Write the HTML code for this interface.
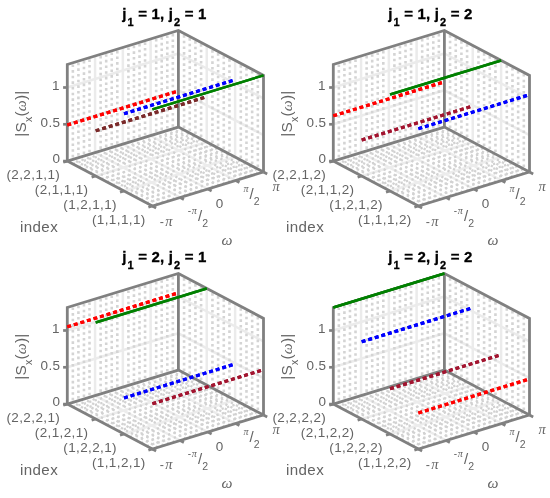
<!DOCTYPE html>
<html><head><meta charset="utf-8"><style>
html,body{margin:0;padding:0;background:#fff;}
svg{display:block;}
text{font-family:"Liberation Sans",Arial,sans-serif;}
.ti{font-size:15px;font-weight:bold;fill:#000;letter-spacing:0.2px;stroke:#000;stroke-width:0.3px;}
.sub{font-size:11px;}
.tk{font-size:12.5px;fill:#646464;letter-spacing:0.8px;}
.lb{font-size:14px;fill:#646464;letter-spacing:0.9px;}
.tks{letter-spacing:0.36px;}
.lbs{letter-spacing:0.4px;}
.sub2{font-size:10.5px;}
.yl{font-size:15.5px;letter-spacing:0.2px;}
.sm{font-size:10px;}
.sb{font-size:10.5px;}
.sl{font-size:15px;letter-spacing:0;}
.pi{font-family:"Liberation Serif",serif;font-style:italic;}
.pib{font-size:14.5px;}
.om{font-family:"Liberation Serif",serif;font-style:italic;font-size:15.5px;}
.omy{font-family:"Liberation Serif",serif;font-style:italic;font-size:15.5px;}
</style></head><body>
<svg width="550" height="498" viewBox="0 0 550 498">
<rect width="550" height="498" fill="#fff"/>
<clipPath id="c0L"><polygon points="67.3,161.1 178.4,127.1 178.4,30.5 67.3,64.5"/></clipPath><clipPath id="c0R"><polygon points="178.4,127.1 263.5,172 263.5,75.4 178.4,30.5"/></clipPath><clipPath id="c0F"><polygon points="67.3,161.1 178.4,127.1 263.5,172 152.4,206"/></clipPath><line x1="95.08" y1="152.6" x2="95.08" y2="56" stroke="#ebebeb" stroke-width="2.5" /><line x1="180.18" y1="197.5" x2="95.08" y2="152.6" stroke="#ececec" stroke-width="2.5" /><line x1="122.85" y1="144.1" x2="122.85" y2="47.5" stroke="#ebebeb" stroke-width="2.5" /><line x1="207.95" y1="189" x2="122.85" y2="144.1" stroke="#ececec" stroke-width="2.5" /><line x1="150.62" y1="135.6" x2="150.62" y2="39" stroke="#ebebeb" stroke-width="2.5" /><line x1="235.72" y1="180.5" x2="150.62" y2="135.6" stroke="#ececec" stroke-width="2.5" /><line x1="235.13" y1="157.03" x2="235.13" y2="60.43" stroke="#ebebeb" stroke-width="2.5" /><line x1="124.03" y1="191.03" x2="235.13" y2="157.03" stroke="#ececec" stroke-width="2.5" /><line x1="206.77" y1="142.07" x2="206.77" y2="45.47" stroke="#ebebeb" stroke-width="2.5" /><line x1="95.67" y1="176.07" x2="206.77" y2="142.07" stroke="#ececec" stroke-width="2.5" /><line x1="67.3" y1="124.3" x2="178.4" y2="90.3" stroke="#ebebeb" stroke-width="2.5" /><line x1="178.4" y1="90.3" x2="263.5" y2="135.2" stroke="#ebebeb" stroke-width="2.5" /><line x1="67.3" y1="87.5" x2="178.4" y2="53.5" stroke="#ebebeb" stroke-width="2.5" /><line x1="178.4" y1="53.5" x2="263.5" y2="98.4" stroke="#ebebeb" stroke-width="2.5" /><g clip-path="url(#c0L)"><line x1="72.86" y1="157.4" x2="72.86" y2="62.8" stroke="#d4d4d4" stroke-width="2.6" stroke-dasharray="2.6 3.05"/><line x1="78.41" y1="155.7" x2="78.41" y2="61.1" stroke="#d4d4d4" stroke-width="2.6" stroke-dasharray="2.6 3.05"/><line x1="83.97" y1="154" x2="83.97" y2="59.4" stroke="#d4d4d4" stroke-width="2.6" stroke-dasharray="2.6 3.05"/><line x1="89.52" y1="152.3" x2="89.52" y2="57.7" stroke="#d4d4d4" stroke-width="2.6" stroke-dasharray="2.6 3.05"/><line x1="100.63" y1="148.9" x2="100.63" y2="54.3" stroke="#d4d4d4" stroke-width="2.6" stroke-dasharray="2.6 3.05"/><line x1="106.19" y1="147.2" x2="106.19" y2="52.6" stroke="#d4d4d4" stroke-width="2.6" stroke-dasharray="2.6 3.05"/><line x1="111.74" y1="145.5" x2="111.74" y2="50.9" stroke="#d4d4d4" stroke-width="2.6" stroke-dasharray="2.6 3.05"/><line x1="117.3" y1="143.8" x2="117.3" y2="49.2" stroke="#d4d4d4" stroke-width="2.6" stroke-dasharray="2.6 3.05"/><line x1="128.41" y1="140.4" x2="128.41" y2="45.8" stroke="#d4d4d4" stroke-width="2.6" stroke-dasharray="2.6 3.05"/><line x1="133.96" y1="138.7" x2="133.96" y2="44.1" stroke="#d4d4d4" stroke-width="2.6" stroke-dasharray="2.6 3.05"/><line x1="139.52" y1="137" x2="139.52" y2="42.4" stroke="#d4d4d4" stroke-width="2.6" stroke-dasharray="2.6 3.05"/><line x1="145.07" y1="135.3" x2="145.07" y2="40.7" stroke="#d4d4d4" stroke-width="2.6" stroke-dasharray="2.6 3.05"/><line x1="156.18" y1="131.9" x2="156.18" y2="37.3" stroke="#d4d4d4" stroke-width="2.6" stroke-dasharray="2.6 3.05"/><line x1="161.73" y1="130.2" x2="161.73" y2="35.6" stroke="#d4d4d4" stroke-width="2.6" stroke-dasharray="2.6 3.05"/><line x1="167.29" y1="128.5" x2="167.29" y2="33.9" stroke="#d4d4d4" stroke-width="2.6" stroke-dasharray="2.6 3.05"/><line x1="172.84" y1="126.8" x2="172.84" y2="32.2" stroke="#d4d4d4" stroke-width="2.6" stroke-dasharray="2.6 3.05"/></g><g clip-path="url(#c0R)"><line x1="257.83" y1="167.01" x2="257.83" y2="72.41" stroke="#d4d4d4" stroke-width="2.6" stroke-dasharray="2.6 3.05"/><line x1="252.15" y1="164.01" x2="252.15" y2="69.41" stroke="#d4d4d4" stroke-width="2.6" stroke-dasharray="2.6 3.05"/><line x1="246.48" y1="161.02" x2="246.48" y2="66.42" stroke="#d4d4d4" stroke-width="2.6" stroke-dasharray="2.6 3.05"/><line x1="240.81" y1="158.03" x2="240.81" y2="63.43" stroke="#d4d4d4" stroke-width="2.6" stroke-dasharray="2.6 3.05"/><line x1="229.46" y1="152.04" x2="229.46" y2="57.44" stroke="#d4d4d4" stroke-width="2.6" stroke-dasharray="2.6 3.05"/><line x1="223.79" y1="149.05" x2="223.79" y2="54.45" stroke="#d4d4d4" stroke-width="2.6" stroke-dasharray="2.6 3.05"/><line x1="218.11" y1="146.05" x2="218.11" y2="51.45" stroke="#d4d4d4" stroke-width="2.6" stroke-dasharray="2.6 3.05"/><line x1="212.44" y1="143.06" x2="212.44" y2="48.46" stroke="#d4d4d4" stroke-width="2.6" stroke-dasharray="2.6 3.05"/><line x1="201.09" y1="137.07" x2="201.09" y2="42.47" stroke="#d4d4d4" stroke-width="2.6" stroke-dasharray="2.6 3.05"/><line x1="195.42" y1="134.08" x2="195.42" y2="39.48" stroke="#d4d4d4" stroke-width="2.6" stroke-dasharray="2.6 3.05"/><line x1="189.75" y1="131.09" x2="189.75" y2="36.49" stroke="#d4d4d4" stroke-width="2.6" stroke-dasharray="2.6 3.05"/><line x1="184.07" y1="128.09" x2="184.07" y2="33.49" stroke="#d4d4d4" stroke-width="2.6" stroke-dasharray="2.6 3.05"/></g><g clip-path="url(#c0F)"><line x1="157.96" y1="204.3" x2="72.86" y2="159.4" stroke="#d2d2d2" stroke-width="2.3" stroke-dasharray="2.3 3.35"/><line x1="163.51" y1="202.6" x2="78.41" y2="157.7" stroke="#d2d2d2" stroke-width="2.3" stroke-dasharray="2.3 3.35"/><line x1="169.06" y1="200.9" x2="83.97" y2="156" stroke="#d2d2d2" stroke-width="2.3" stroke-dasharray="2.3 3.35"/><line x1="174.62" y1="199.2" x2="89.52" y2="154.3" stroke="#d2d2d2" stroke-width="2.3" stroke-dasharray="2.3 3.35"/><line x1="185.73" y1="195.8" x2="100.63" y2="150.9" stroke="#d2d2d2" stroke-width="2.3" stroke-dasharray="2.3 3.35"/><line x1="191.28" y1="194.1" x2="106.19" y2="149.2" stroke="#d2d2d2" stroke-width="2.3" stroke-dasharray="2.3 3.35"/><line x1="196.84" y1="192.4" x2="111.74" y2="147.5" stroke="#d2d2d2" stroke-width="2.3" stroke-dasharray="2.3 3.35"/><line x1="202.4" y1="190.7" x2="117.3" y2="145.8" stroke="#d2d2d2" stroke-width="2.3" stroke-dasharray="2.3 3.35"/><line x1="213.5" y1="187.3" x2="128.41" y2="142.4" stroke="#d2d2d2" stroke-width="2.3" stroke-dasharray="2.3 3.35"/><line x1="219.06" y1="185.6" x2="133.96" y2="140.7" stroke="#d2d2d2" stroke-width="2.3" stroke-dasharray="2.3 3.35"/><line x1="224.62" y1="183.9" x2="139.52" y2="139" stroke="#d2d2d2" stroke-width="2.3" stroke-dasharray="2.3 3.35"/><line x1="230.17" y1="182.2" x2="145.07" y2="137.3" stroke="#d2d2d2" stroke-width="2.3" stroke-dasharray="2.3 3.35"/><line x1="241.28" y1="178.8" x2="156.18" y2="133.9" stroke="#d2d2d2" stroke-width="2.3" stroke-dasharray="2.3 3.35"/><line x1="246.83" y1="177.1" x2="161.73" y2="132.2" stroke="#d2d2d2" stroke-width="2.3" stroke-dasharray="2.3 3.35"/><line x1="252.39" y1="175.4" x2="167.29" y2="130.5" stroke="#d2d2d2" stroke-width="2.3" stroke-dasharray="2.3 3.35"/><line x1="257.94" y1="173.7" x2="172.84" y2="128.8" stroke="#d2d2d2" stroke-width="2.3" stroke-dasharray="2.3 3.35"/><line x1="146.73" y1="203.01" x2="257.83" y2="169.01" stroke="#d2d2d2" stroke-width="2.3" stroke-dasharray="2.3 3.35"/><line x1="141.05" y1="200.01" x2="252.15" y2="166.01" stroke="#d2d2d2" stroke-width="2.3" stroke-dasharray="2.3 3.35"/><line x1="135.38" y1="197.02" x2="246.48" y2="163.02" stroke="#d2d2d2" stroke-width="2.3" stroke-dasharray="2.3 3.35"/><line x1="129.71" y1="194.03" x2="240.81" y2="160.03" stroke="#d2d2d2" stroke-width="2.3" stroke-dasharray="2.3 3.35"/><line x1="118.36" y1="188.04" x2="229.46" y2="154.04" stroke="#d2d2d2" stroke-width="2.3" stroke-dasharray="2.3 3.35"/><line x1="112.69" y1="185.05" x2="223.79" y2="151.05" stroke="#d2d2d2" stroke-width="2.3" stroke-dasharray="2.3 3.35"/><line x1="107.01" y1="182.05" x2="218.11" y2="148.05" stroke="#d2d2d2" stroke-width="2.3" stroke-dasharray="2.3 3.35"/><line x1="101.34" y1="179.06" x2="212.44" y2="145.06" stroke="#d2d2d2" stroke-width="2.3" stroke-dasharray="2.3 3.35"/><line x1="89.99" y1="173.07" x2="201.09" y2="139.07" stroke="#d2d2d2" stroke-width="2.3" stroke-dasharray="2.3 3.35"/><line x1="84.32" y1="170.08" x2="195.42" y2="136.08" stroke="#d2d2d2" stroke-width="2.3" stroke-dasharray="2.3 3.35"/><line x1="78.65" y1="167.09" x2="189.75" y2="133.09" stroke="#d2d2d2" stroke-width="2.3" stroke-dasharray="2.3 3.35"/><line x1="72.97" y1="164.09" x2="184.07" y2="130.09" stroke="#d2d2d2" stroke-width="2.3" stroke-dasharray="2.3 3.35"/></g><polyline points="67.3,161.1 67.3,64.5 178.4,30.5 263.5,75.4 263.5,172" fill="none" stroke="#808080" stroke-width="2.8" stroke-linejoin="miter"/><polyline points="178.4,30.5 178.4,127.1" fill="none" stroke="#808080" stroke-width="2.8" stroke-linejoin="miter"/><polyline points="67.3,161.1 178.4,127.1 263.5,172" fill="none" stroke="#808080" stroke-width="2.8" stroke-linejoin="miter"/><polyline points="67.3,161.1 152.4,206 263.5,172" fill="none" stroke="#808080" stroke-width="2.8" stroke-linejoin="miter"/><line x1="152.4" y1="206" x2="156.11" y2="207.96" stroke="#808080" stroke-width="2.7" /><line x1="180.18" y1="197.5" x2="183.89" y2="199.46" stroke="#808080" stroke-width="2.7" /><line x1="207.95" y1="189" x2="211.66" y2="190.96" stroke="#808080" stroke-width="2.7" /><line x1="235.72" y1="180.5" x2="239.44" y2="182.46" stroke="#808080" stroke-width="2.7" /><line x1="263.5" y1="172" x2="267.21" y2="173.96" stroke="#808080" stroke-width="2.7" /><line x1="152.4" y1="206" x2="148.38" y2="207.23" stroke="#808080" stroke-width="2.7" /><line x1="124.03" y1="191.03" x2="120.02" y2="192.26" stroke="#808080" stroke-width="2.7" /><line x1="95.67" y1="176.07" x2="91.65" y2="177.3" stroke="#808080" stroke-width="2.7" /><line x1="67.3" y1="161.1" x2="63.28" y2="162.33" stroke="#808080" stroke-width="2.7" /><line x1="67.3" y1="161.1" x2="63.1" y2="161.1" stroke="#808080" stroke-width="2.7" /><line x1="67.3" y1="124.3" x2="63.1" y2="124.3" stroke="#808080" stroke-width="2.7" /><line x1="67.3" y1="87.5" x2="63.1" y2="87.5" stroke="#808080" stroke-width="2.7" /><line x1="67.3" y1="125.04" x2="178.4" y2="91.04" stroke="#ff0000" stroke-width="3.2" stroke-dasharray="3.9 2.95"/><line x1="95.67" y1="130.8" x2="206.77" y2="96.8" stroke="#7a2a2a" stroke-width="3.2" stroke-dasharray="3.9 2.95"/><line x1="124.03" y1="113.75" x2="235.13" y2="79.75" stroke="#0000ff" stroke-width="3.2" stroke-dasharray="3.9 2.95"/><line x1="152.4" y1="109.4" x2="263.5" y2="75.4" stroke="#008000" stroke-width="2.5" /><line x1="67.3" y1="125.04" x2="178.4" y2="91.04" stroke="#ff0000" stroke-width="3.2" stroke-dasharray="3.9 2.95"/><line x1="95.67" y1="130.8" x2="206.77" y2="96.8" stroke="#7a2a2a" stroke-width="3.2" stroke-dasharray="3.9 2.95"/><line x1="124.03" y1="113.75" x2="235.13" y2="79.75" stroke="#0000ff" stroke-width="3.2" stroke-dasharray="3.9 2.95"/><line x1="152.4" y1="109.4" x2="263.5" y2="75.4" stroke="#008000" stroke-width="2.5" /><text x="122.3" y="19" class="ti">j<tspan class="sub" dx="0.8" dy="7.2">1</tspan><tspan dy="-7.2"> = 1, j</tspan><tspan class="sub" dx="0.8" dy="7.2">2</tspan><tspan dy="-7.2"> = 1</tspan></text><text transform="translate(60.4,163) scale(1.08,1)" class="tk tks" text-anchor="end">0</text><text transform="translate(60.5,127.4) scale(1.08,1)" class="tk tks" text-anchor="end">0.5</text><text transform="translate(59.9,90.4) scale(1.08,1)" class="tk tks" text-anchor="end">1</text><text transform="translate(145.7,223.8) scale(1.08,1)" class="tk tks" text-anchor="end">(1,1,1,1)</text><text transform="translate(117,208.6) scale(1.08,1)" class="tk tks" text-anchor="end">(1,2,1,1)</text><text transform="translate(88.5,193.7) scale(1.08,1)" class="tk tks" text-anchor="end">(2,1,1,1)</text><text transform="translate(60.2,178.7) scale(1.08,1)" class="tk tks" text-anchor="end">(2,2,1,1)</text><text x="159.8" y="225.8" class="tk">-<tspan class="pi pib" dx="0.5">&#960;</tspan></text><text x="187.7" y="220.5" class="tk"><tspan class="sm" dy="-6.5">-</tspan><tspan class="sm pi">&#960;</tspan><tspan class="sl" dy="6.5" dx="0.3">/</tspan><tspan class="sb" dy="6.2">2</tspan></text><text transform="translate(215.7,207.9) scale(1.08,1)" class="tk tks">0</text><text x="243.4" y="198.5" class="tk"><tspan class="sm pi" dy="-6.5">&#960;</tspan><tspan class="sl" dy="6.5" dx="0.3">/</tspan><tspan class="sb" dy="6.2">2</tspan></text><text x="272.5" y="190.5" class="tk pi pib">&#960;</text><text x="221.5" y="244.7" class="lb om">&#969;</text><text transform="translate(19.9,231.8) scale(1.08,1)" class="lb lbs">index</text><text class="lb yl" text-anchor="middle" transform="translate(25.6,113.6) rotate(-90)">|S<tspan class="sub2" dy="6.5">x</tspan><tspan dy="-6.5">(</tspan><tspan class="omy">&#969;</tspan><tspan>)|</tspan></text><clipPath id="c1L"><polygon points="333.3,161.1 444.4,127.1 444.4,30.5 333.3,64.5"/></clipPath><clipPath id="c1R"><polygon points="444.4,127.1 529.5,172 529.5,75.4 444.4,30.5"/></clipPath><clipPath id="c1F"><polygon points="333.3,161.1 444.4,127.1 529.5,172 418.4,206"/></clipPath><line x1="361.08" y1="152.6" x2="361.08" y2="56" stroke="#ebebeb" stroke-width="2.5" /><line x1="446.18" y1="197.5" x2="361.08" y2="152.6" stroke="#ececec" stroke-width="2.5" /><line x1="388.85" y1="144.1" x2="388.85" y2="47.5" stroke="#ebebeb" stroke-width="2.5" /><line x1="473.95" y1="189" x2="388.85" y2="144.1" stroke="#ececec" stroke-width="2.5" /><line x1="416.62" y1="135.6" x2="416.62" y2="39" stroke="#ebebeb" stroke-width="2.5" /><line x1="501.73" y1="180.5" x2="416.62" y2="135.6" stroke="#ececec" stroke-width="2.5" /><line x1="501.13" y1="157.03" x2="501.13" y2="60.43" stroke="#ebebeb" stroke-width="2.5" /><line x1="390.03" y1="191.03" x2="501.13" y2="157.03" stroke="#ececec" stroke-width="2.5" /><line x1="472.77" y1="142.07" x2="472.77" y2="45.47" stroke="#ebebeb" stroke-width="2.5" /><line x1="361.67" y1="176.07" x2="472.77" y2="142.07" stroke="#ececec" stroke-width="2.5" /><line x1="333.3" y1="124.3" x2="444.4" y2="90.3" stroke="#ebebeb" stroke-width="2.5" /><line x1="444.4" y1="90.3" x2="529.5" y2="135.2" stroke="#ebebeb" stroke-width="2.5" /><line x1="333.3" y1="87.5" x2="444.4" y2="53.5" stroke="#ebebeb" stroke-width="2.5" /><line x1="444.4" y1="53.5" x2="529.5" y2="98.4" stroke="#ebebeb" stroke-width="2.5" /><g clip-path="url(#c1L)"><line x1="338.86" y1="157.4" x2="338.86" y2="62.8" stroke="#d4d4d4" stroke-width="2.6" stroke-dasharray="2.6 3.05"/><line x1="344.41" y1="155.7" x2="344.41" y2="61.1" stroke="#d4d4d4" stroke-width="2.6" stroke-dasharray="2.6 3.05"/><line x1="349.97" y1="154" x2="349.97" y2="59.4" stroke="#d4d4d4" stroke-width="2.6" stroke-dasharray="2.6 3.05"/><line x1="355.52" y1="152.3" x2="355.52" y2="57.7" stroke="#d4d4d4" stroke-width="2.6" stroke-dasharray="2.6 3.05"/><line x1="366.63" y1="148.9" x2="366.63" y2="54.3" stroke="#d4d4d4" stroke-width="2.6" stroke-dasharray="2.6 3.05"/><line x1="372.19" y1="147.2" x2="372.19" y2="52.6" stroke="#d4d4d4" stroke-width="2.6" stroke-dasharray="2.6 3.05"/><line x1="377.74" y1="145.5" x2="377.74" y2="50.9" stroke="#d4d4d4" stroke-width="2.6" stroke-dasharray="2.6 3.05"/><line x1="383.3" y1="143.8" x2="383.3" y2="49.2" stroke="#d4d4d4" stroke-width="2.6" stroke-dasharray="2.6 3.05"/><line x1="394.4" y1="140.4" x2="394.4" y2="45.8" stroke="#d4d4d4" stroke-width="2.6" stroke-dasharray="2.6 3.05"/><line x1="399.96" y1="138.7" x2="399.96" y2="44.1" stroke="#d4d4d4" stroke-width="2.6" stroke-dasharray="2.6 3.05"/><line x1="405.51" y1="137" x2="405.51" y2="42.4" stroke="#d4d4d4" stroke-width="2.6" stroke-dasharray="2.6 3.05"/><line x1="411.07" y1="135.3" x2="411.07" y2="40.7" stroke="#d4d4d4" stroke-width="2.6" stroke-dasharray="2.6 3.05"/><line x1="422.18" y1="131.9" x2="422.18" y2="37.3" stroke="#d4d4d4" stroke-width="2.6" stroke-dasharray="2.6 3.05"/><line x1="427.74" y1="130.2" x2="427.74" y2="35.6" stroke="#d4d4d4" stroke-width="2.6" stroke-dasharray="2.6 3.05"/><line x1="433.29" y1="128.5" x2="433.29" y2="33.9" stroke="#d4d4d4" stroke-width="2.6" stroke-dasharray="2.6 3.05"/><line x1="438.85" y1="126.8" x2="438.85" y2="32.2" stroke="#d4d4d4" stroke-width="2.6" stroke-dasharray="2.6 3.05"/></g><g clip-path="url(#c1R)"><line x1="523.83" y1="167.01" x2="523.83" y2="72.41" stroke="#d4d4d4" stroke-width="2.6" stroke-dasharray="2.6 3.05"/><line x1="518.15" y1="164.01" x2="518.15" y2="69.41" stroke="#d4d4d4" stroke-width="2.6" stroke-dasharray="2.6 3.05"/><line x1="512.48" y1="161.02" x2="512.48" y2="66.42" stroke="#d4d4d4" stroke-width="2.6" stroke-dasharray="2.6 3.05"/><line x1="506.81" y1="158.03" x2="506.81" y2="63.43" stroke="#d4d4d4" stroke-width="2.6" stroke-dasharray="2.6 3.05"/><line x1="495.46" y1="152.04" x2="495.46" y2="57.44" stroke="#d4d4d4" stroke-width="2.6" stroke-dasharray="2.6 3.05"/><line x1="489.79" y1="149.05" x2="489.79" y2="54.45" stroke="#d4d4d4" stroke-width="2.6" stroke-dasharray="2.6 3.05"/><line x1="484.11" y1="146.05" x2="484.11" y2="51.45" stroke="#d4d4d4" stroke-width="2.6" stroke-dasharray="2.6 3.05"/><line x1="478.44" y1="143.06" x2="478.44" y2="48.46" stroke="#d4d4d4" stroke-width="2.6" stroke-dasharray="2.6 3.05"/><line x1="467.09" y1="137.07" x2="467.09" y2="42.47" stroke="#d4d4d4" stroke-width="2.6" stroke-dasharray="2.6 3.05"/><line x1="461.42" y1="134.08" x2="461.42" y2="39.48" stroke="#d4d4d4" stroke-width="2.6" stroke-dasharray="2.6 3.05"/><line x1="455.75" y1="131.09" x2="455.75" y2="36.49" stroke="#d4d4d4" stroke-width="2.6" stroke-dasharray="2.6 3.05"/><line x1="450.07" y1="128.09" x2="450.07" y2="33.49" stroke="#d4d4d4" stroke-width="2.6" stroke-dasharray="2.6 3.05"/></g><g clip-path="url(#c1F)"><line x1="423.96" y1="204.3" x2="338.86" y2="159.4" stroke="#d2d2d2" stroke-width="2.3" stroke-dasharray="2.3 3.35"/><line x1="429.51" y1="202.6" x2="344.41" y2="157.7" stroke="#d2d2d2" stroke-width="2.3" stroke-dasharray="2.3 3.35"/><line x1="435.06" y1="200.9" x2="349.97" y2="156" stroke="#d2d2d2" stroke-width="2.3" stroke-dasharray="2.3 3.35"/><line x1="440.62" y1="199.2" x2="355.52" y2="154.3" stroke="#d2d2d2" stroke-width="2.3" stroke-dasharray="2.3 3.35"/><line x1="451.73" y1="195.8" x2="366.63" y2="150.9" stroke="#d2d2d2" stroke-width="2.3" stroke-dasharray="2.3 3.35"/><line x1="457.28" y1="194.1" x2="372.19" y2="149.2" stroke="#d2d2d2" stroke-width="2.3" stroke-dasharray="2.3 3.35"/><line x1="462.84" y1="192.4" x2="377.74" y2="147.5" stroke="#d2d2d2" stroke-width="2.3" stroke-dasharray="2.3 3.35"/><line x1="468.39" y1="190.7" x2="383.3" y2="145.8" stroke="#d2d2d2" stroke-width="2.3" stroke-dasharray="2.3 3.35"/><line x1="479.5" y1="187.3" x2="394.4" y2="142.4" stroke="#d2d2d2" stroke-width="2.3" stroke-dasharray="2.3 3.35"/><line x1="485.06" y1="185.6" x2="399.96" y2="140.7" stroke="#d2d2d2" stroke-width="2.3" stroke-dasharray="2.3 3.35"/><line x1="490.62" y1="183.9" x2="405.51" y2="139" stroke="#d2d2d2" stroke-width="2.3" stroke-dasharray="2.3 3.35"/><line x1="496.17" y1="182.2" x2="411.07" y2="137.3" stroke="#d2d2d2" stroke-width="2.3" stroke-dasharray="2.3 3.35"/><line x1="507.28" y1="178.8" x2="422.18" y2="133.9" stroke="#d2d2d2" stroke-width="2.3" stroke-dasharray="2.3 3.35"/><line x1="512.84" y1="177.1" x2="427.74" y2="132.2" stroke="#d2d2d2" stroke-width="2.3" stroke-dasharray="2.3 3.35"/><line x1="518.39" y1="175.4" x2="433.29" y2="130.5" stroke="#d2d2d2" stroke-width="2.3" stroke-dasharray="2.3 3.35"/><line x1="523.94" y1="173.7" x2="438.85" y2="128.8" stroke="#d2d2d2" stroke-width="2.3" stroke-dasharray="2.3 3.35"/><line x1="412.73" y1="203.01" x2="523.83" y2="169.01" stroke="#d2d2d2" stroke-width="2.3" stroke-dasharray="2.3 3.35"/><line x1="407.05" y1="200.01" x2="518.15" y2="166.01" stroke="#d2d2d2" stroke-width="2.3" stroke-dasharray="2.3 3.35"/><line x1="401.38" y1="197.02" x2="512.48" y2="163.02" stroke="#d2d2d2" stroke-width="2.3" stroke-dasharray="2.3 3.35"/><line x1="395.71" y1="194.03" x2="506.81" y2="160.03" stroke="#d2d2d2" stroke-width="2.3" stroke-dasharray="2.3 3.35"/><line x1="384.36" y1="188.04" x2="495.46" y2="154.04" stroke="#d2d2d2" stroke-width="2.3" stroke-dasharray="2.3 3.35"/><line x1="378.69" y1="185.05" x2="489.79" y2="151.05" stroke="#d2d2d2" stroke-width="2.3" stroke-dasharray="2.3 3.35"/><line x1="373.01" y1="182.05" x2="484.11" y2="148.05" stroke="#d2d2d2" stroke-width="2.3" stroke-dasharray="2.3 3.35"/><line x1="367.34" y1="179.06" x2="478.44" y2="145.06" stroke="#d2d2d2" stroke-width="2.3" stroke-dasharray="2.3 3.35"/><line x1="355.99" y1="173.07" x2="467.09" y2="139.07" stroke="#d2d2d2" stroke-width="2.3" stroke-dasharray="2.3 3.35"/><line x1="350.32" y1="170.08" x2="461.42" y2="136.08" stroke="#d2d2d2" stroke-width="2.3" stroke-dasharray="2.3 3.35"/><line x1="344.65" y1="167.09" x2="455.75" y2="133.09" stroke="#d2d2d2" stroke-width="2.3" stroke-dasharray="2.3 3.35"/><line x1="338.97" y1="164.09" x2="450.07" y2="130.09" stroke="#d2d2d2" stroke-width="2.3" stroke-dasharray="2.3 3.35"/></g><polyline points="333.3,161.1 333.3,64.5 444.4,30.5 529.5,75.4 529.5,172" fill="none" stroke="#808080" stroke-width="2.8" stroke-linejoin="miter"/><polyline points="444.4,30.5 444.4,127.1" fill="none" stroke="#808080" stroke-width="2.8" stroke-linejoin="miter"/><polyline points="333.3,161.1 444.4,127.1 529.5,172" fill="none" stroke="#808080" stroke-width="2.8" stroke-linejoin="miter"/><polyline points="333.3,161.1 418.4,206 529.5,172" fill="none" stroke="#808080" stroke-width="2.8" stroke-linejoin="miter"/><line x1="418.4" y1="206" x2="422.11" y2="207.96" stroke="#808080" stroke-width="2.7" /><line x1="446.18" y1="197.5" x2="449.89" y2="199.46" stroke="#808080" stroke-width="2.7" /><line x1="473.95" y1="189" x2="477.66" y2="190.96" stroke="#808080" stroke-width="2.7" /><line x1="501.73" y1="180.5" x2="505.44" y2="182.46" stroke="#808080" stroke-width="2.7" /><line x1="529.5" y1="172" x2="533.21" y2="173.96" stroke="#808080" stroke-width="2.7" /><line x1="418.4" y1="206" x2="414.38" y2="207.23" stroke="#808080" stroke-width="2.7" /><line x1="390.03" y1="191.03" x2="386.02" y2="192.26" stroke="#808080" stroke-width="2.7" /><line x1="361.67" y1="176.07" x2="357.65" y2="177.3" stroke="#808080" stroke-width="2.7" /><line x1="333.3" y1="161.1" x2="329.28" y2="162.33" stroke="#808080" stroke-width="2.7" /><line x1="333.3" y1="161.1" x2="329.1" y2="161.1" stroke="#808080" stroke-width="2.7" /><line x1="333.3" y1="124.3" x2="329.1" y2="124.3" stroke="#808080" stroke-width="2.7" /><line x1="333.3" y1="87.5" x2="329.1" y2="87.5" stroke="#808080" stroke-width="2.7" /><line x1="333.3" y1="115.84" x2="444.4" y2="81.84" stroke="#ff0000" stroke-width="3.2" stroke-dasharray="3.9 2.95"/><line x1="361.67" y1="140" x2="472.77" y2="106" stroke="#a2142f" stroke-width="3.2" stroke-dasharray="3.9 2.95"/><line x1="390.03" y1="94.43" x2="501.13" y2="60.43" stroke="#008000" stroke-width="2.5" /><line x1="418.4" y1="128.72" x2="529.5" y2="94.72" stroke="#0000ff" stroke-width="3.2" stroke-dasharray="3.9 2.95"/><line x1="333.3" y1="115.84" x2="444.4" y2="81.84" stroke="#ff0000" stroke-width="3.2" stroke-dasharray="3.9 2.95"/><line x1="361.67" y1="140" x2="472.77" y2="106" stroke="#a2142f" stroke-width="3.2" stroke-dasharray="3.9 2.95"/><line x1="390.03" y1="94.43" x2="501.13" y2="60.43" stroke="#008000" stroke-width="2.5" /><line x1="418.4" y1="128.72" x2="529.5" y2="94.72" stroke="#0000ff" stroke-width="3.2" stroke-dasharray="3.9 2.95"/><text x="388.3" y="19" class="ti">j<tspan class="sub" dx="0.8" dy="7.2">1</tspan><tspan dy="-7.2"> = 1, j</tspan><tspan class="sub" dx="0.8" dy="7.2">2</tspan><tspan dy="-7.2"> = 2</tspan></text><text transform="translate(326.4,163) scale(1.08,1)" class="tk tks" text-anchor="end">0</text><text transform="translate(326.5,127.4) scale(1.08,1)" class="tk tks" text-anchor="end">0.5</text><text transform="translate(325.9,90.4) scale(1.08,1)" class="tk tks" text-anchor="end">1</text><text transform="translate(411.7,223.8) scale(1.08,1)" class="tk tks" text-anchor="end">(1,1,1,2)</text><text transform="translate(383,208.6) scale(1.08,1)" class="tk tks" text-anchor="end">(1,2,1,2)</text><text transform="translate(354.5,193.7) scale(1.08,1)" class="tk tks" text-anchor="end">(2,1,1,2)</text><text transform="translate(326.2,178.7) scale(1.08,1)" class="tk tks" text-anchor="end">(2,2,1,2)</text><text x="425.8" y="225.8" class="tk">-<tspan class="pi pib" dx="0.5">&#960;</tspan></text><text x="453.7" y="220.5" class="tk"><tspan class="sm" dy="-6.5">-</tspan><tspan class="sm pi">&#960;</tspan><tspan class="sl" dy="6.5" dx="0.3">/</tspan><tspan class="sb" dy="6.2">2</tspan></text><text transform="translate(481.7,207.9) scale(1.08,1)" class="tk tks">0</text><text x="509.4" y="198.5" class="tk"><tspan class="sm pi" dy="-6.5">&#960;</tspan><tspan class="sl" dy="6.5" dx="0.3">/</tspan><tspan class="sb" dy="6.2">2</tspan></text><text x="538.5" y="190.5" class="tk pi pib">&#960;</text><text x="487.5" y="244.7" class="lb om">&#969;</text><text transform="translate(285.9,231.8) scale(1.08,1)" class="lb lbs">index</text><text class="lb yl" text-anchor="middle" transform="translate(291.6,113.6) rotate(-90)">|S<tspan class="sub2" dy="6.5">x</tspan><tspan dy="-6.5">(</tspan><tspan class="omy">&#969;</tspan><tspan>)|</tspan></text><clipPath id="c2L"><polygon points="67.3,404.1 178.4,370.1 178.4,273.5 67.3,307.5"/></clipPath><clipPath id="c2R"><polygon points="178.4,370.1 263.5,415 263.5,318.4 178.4,273.5"/></clipPath><clipPath id="c2F"><polygon points="67.3,404.1 178.4,370.1 263.5,415 152.4,449"/></clipPath><line x1="95.08" y1="395.6" x2="95.08" y2="299" stroke="#ebebeb" stroke-width="2.5" /><line x1="180.18" y1="440.5" x2="95.08" y2="395.6" stroke="#ececec" stroke-width="2.5" /><line x1="122.85" y1="387.1" x2="122.85" y2="290.5" stroke="#ebebeb" stroke-width="2.5" /><line x1="207.95" y1="432" x2="122.85" y2="387.1" stroke="#ececec" stroke-width="2.5" /><line x1="150.62" y1="378.6" x2="150.62" y2="282" stroke="#ebebeb" stroke-width="2.5" /><line x1="235.72" y1="423.5" x2="150.62" y2="378.6" stroke="#ececec" stroke-width="2.5" /><line x1="235.13" y1="400.03" x2="235.13" y2="303.43" stroke="#ebebeb" stroke-width="2.5" /><line x1="124.03" y1="434.03" x2="235.13" y2="400.03" stroke="#ececec" stroke-width="2.5" /><line x1="206.77" y1="385.07" x2="206.77" y2="288.47" stroke="#ebebeb" stroke-width="2.5" /><line x1="95.67" y1="419.07" x2="206.77" y2="385.07" stroke="#ececec" stroke-width="2.5" /><line x1="67.3" y1="367.3" x2="178.4" y2="333.3" stroke="#ebebeb" stroke-width="2.5" /><line x1="178.4" y1="333.3" x2="263.5" y2="378.2" stroke="#ebebeb" stroke-width="2.5" /><line x1="67.3" y1="330.5" x2="178.4" y2="296.5" stroke="#ebebeb" stroke-width="2.5" /><line x1="178.4" y1="296.5" x2="263.5" y2="341.4" stroke="#ebebeb" stroke-width="2.5" /><g clip-path="url(#c2L)"><line x1="72.86" y1="400.4" x2="72.86" y2="305.8" stroke="#d4d4d4" stroke-width="2.6" stroke-dasharray="2.6 3.05"/><line x1="78.41" y1="398.7" x2="78.41" y2="304.1" stroke="#d4d4d4" stroke-width="2.6" stroke-dasharray="2.6 3.05"/><line x1="83.97" y1="397" x2="83.97" y2="302.4" stroke="#d4d4d4" stroke-width="2.6" stroke-dasharray="2.6 3.05"/><line x1="89.52" y1="395.3" x2="89.52" y2="300.7" stroke="#d4d4d4" stroke-width="2.6" stroke-dasharray="2.6 3.05"/><line x1="100.63" y1="391.9" x2="100.63" y2="297.3" stroke="#d4d4d4" stroke-width="2.6" stroke-dasharray="2.6 3.05"/><line x1="106.19" y1="390.2" x2="106.19" y2="295.6" stroke="#d4d4d4" stroke-width="2.6" stroke-dasharray="2.6 3.05"/><line x1="111.74" y1="388.5" x2="111.74" y2="293.9" stroke="#d4d4d4" stroke-width="2.6" stroke-dasharray="2.6 3.05"/><line x1="117.3" y1="386.8" x2="117.3" y2="292.2" stroke="#d4d4d4" stroke-width="2.6" stroke-dasharray="2.6 3.05"/><line x1="128.41" y1="383.4" x2="128.41" y2="288.8" stroke="#d4d4d4" stroke-width="2.6" stroke-dasharray="2.6 3.05"/><line x1="133.96" y1="381.7" x2="133.96" y2="287.1" stroke="#d4d4d4" stroke-width="2.6" stroke-dasharray="2.6 3.05"/><line x1="139.52" y1="380" x2="139.52" y2="285.4" stroke="#d4d4d4" stroke-width="2.6" stroke-dasharray="2.6 3.05"/><line x1="145.07" y1="378.3" x2="145.07" y2="283.7" stroke="#d4d4d4" stroke-width="2.6" stroke-dasharray="2.6 3.05"/><line x1="156.18" y1="374.9" x2="156.18" y2="280.3" stroke="#d4d4d4" stroke-width="2.6" stroke-dasharray="2.6 3.05"/><line x1="161.73" y1="373.2" x2="161.73" y2="278.6" stroke="#d4d4d4" stroke-width="2.6" stroke-dasharray="2.6 3.05"/><line x1="167.29" y1="371.5" x2="167.29" y2="276.9" stroke="#d4d4d4" stroke-width="2.6" stroke-dasharray="2.6 3.05"/><line x1="172.84" y1="369.8" x2="172.84" y2="275.2" stroke="#d4d4d4" stroke-width="2.6" stroke-dasharray="2.6 3.05"/></g><g clip-path="url(#c2R)"><line x1="257.83" y1="410.01" x2="257.83" y2="315.41" stroke="#d4d4d4" stroke-width="2.6" stroke-dasharray="2.6 3.05"/><line x1="252.15" y1="407.01" x2="252.15" y2="312.41" stroke="#d4d4d4" stroke-width="2.6" stroke-dasharray="2.6 3.05"/><line x1="246.48" y1="404.02" x2="246.48" y2="309.42" stroke="#d4d4d4" stroke-width="2.6" stroke-dasharray="2.6 3.05"/><line x1="240.81" y1="401.03" x2="240.81" y2="306.43" stroke="#d4d4d4" stroke-width="2.6" stroke-dasharray="2.6 3.05"/><line x1="229.46" y1="395.04" x2="229.46" y2="300.44" stroke="#d4d4d4" stroke-width="2.6" stroke-dasharray="2.6 3.05"/><line x1="223.79" y1="392.05" x2="223.79" y2="297.45" stroke="#d4d4d4" stroke-width="2.6" stroke-dasharray="2.6 3.05"/><line x1="218.11" y1="389.05" x2="218.11" y2="294.45" stroke="#d4d4d4" stroke-width="2.6" stroke-dasharray="2.6 3.05"/><line x1="212.44" y1="386.06" x2="212.44" y2="291.46" stroke="#d4d4d4" stroke-width="2.6" stroke-dasharray="2.6 3.05"/><line x1="201.09" y1="380.07" x2="201.09" y2="285.47" stroke="#d4d4d4" stroke-width="2.6" stroke-dasharray="2.6 3.05"/><line x1="195.42" y1="377.08" x2="195.42" y2="282.48" stroke="#d4d4d4" stroke-width="2.6" stroke-dasharray="2.6 3.05"/><line x1="189.75" y1="374.09" x2="189.75" y2="279.49" stroke="#d4d4d4" stroke-width="2.6" stroke-dasharray="2.6 3.05"/><line x1="184.07" y1="371.09" x2="184.07" y2="276.49" stroke="#d4d4d4" stroke-width="2.6" stroke-dasharray="2.6 3.05"/></g><g clip-path="url(#c2F)"><line x1="157.96" y1="447.3" x2="72.86" y2="402.4" stroke="#d2d2d2" stroke-width="2.3" stroke-dasharray="2.3 3.35"/><line x1="163.51" y1="445.6" x2="78.41" y2="400.7" stroke="#d2d2d2" stroke-width="2.3" stroke-dasharray="2.3 3.35"/><line x1="169.06" y1="443.9" x2="83.97" y2="399" stroke="#d2d2d2" stroke-width="2.3" stroke-dasharray="2.3 3.35"/><line x1="174.62" y1="442.2" x2="89.52" y2="397.3" stroke="#d2d2d2" stroke-width="2.3" stroke-dasharray="2.3 3.35"/><line x1="185.73" y1="438.8" x2="100.63" y2="393.9" stroke="#d2d2d2" stroke-width="2.3" stroke-dasharray="2.3 3.35"/><line x1="191.28" y1="437.1" x2="106.19" y2="392.2" stroke="#d2d2d2" stroke-width="2.3" stroke-dasharray="2.3 3.35"/><line x1="196.84" y1="435.4" x2="111.74" y2="390.5" stroke="#d2d2d2" stroke-width="2.3" stroke-dasharray="2.3 3.35"/><line x1="202.4" y1="433.7" x2="117.3" y2="388.8" stroke="#d2d2d2" stroke-width="2.3" stroke-dasharray="2.3 3.35"/><line x1="213.5" y1="430.3" x2="128.41" y2="385.4" stroke="#d2d2d2" stroke-width="2.3" stroke-dasharray="2.3 3.35"/><line x1="219.06" y1="428.6" x2="133.96" y2="383.7" stroke="#d2d2d2" stroke-width="2.3" stroke-dasharray="2.3 3.35"/><line x1="224.62" y1="426.9" x2="139.52" y2="382" stroke="#d2d2d2" stroke-width="2.3" stroke-dasharray="2.3 3.35"/><line x1="230.17" y1="425.2" x2="145.07" y2="380.3" stroke="#d2d2d2" stroke-width="2.3" stroke-dasharray="2.3 3.35"/><line x1="241.28" y1="421.8" x2="156.18" y2="376.9" stroke="#d2d2d2" stroke-width="2.3" stroke-dasharray="2.3 3.35"/><line x1="246.83" y1="420.1" x2="161.73" y2="375.2" stroke="#d2d2d2" stroke-width="2.3" stroke-dasharray="2.3 3.35"/><line x1="252.39" y1="418.4" x2="167.29" y2="373.5" stroke="#d2d2d2" stroke-width="2.3" stroke-dasharray="2.3 3.35"/><line x1="257.94" y1="416.7" x2="172.84" y2="371.8" stroke="#d2d2d2" stroke-width="2.3" stroke-dasharray="2.3 3.35"/><line x1="146.73" y1="446.01" x2="257.83" y2="412.01" stroke="#d2d2d2" stroke-width="2.3" stroke-dasharray="2.3 3.35"/><line x1="141.05" y1="443.01" x2="252.15" y2="409.01" stroke="#d2d2d2" stroke-width="2.3" stroke-dasharray="2.3 3.35"/><line x1="135.38" y1="440.02" x2="246.48" y2="406.02" stroke="#d2d2d2" stroke-width="2.3" stroke-dasharray="2.3 3.35"/><line x1="129.71" y1="437.03" x2="240.81" y2="403.03" stroke="#d2d2d2" stroke-width="2.3" stroke-dasharray="2.3 3.35"/><line x1="118.36" y1="431.04" x2="229.46" y2="397.04" stroke="#d2d2d2" stroke-width="2.3" stroke-dasharray="2.3 3.35"/><line x1="112.69" y1="428.05" x2="223.79" y2="394.05" stroke="#d2d2d2" stroke-width="2.3" stroke-dasharray="2.3 3.35"/><line x1="107.01" y1="425.05" x2="218.11" y2="391.05" stroke="#d2d2d2" stroke-width="2.3" stroke-dasharray="2.3 3.35"/><line x1="101.34" y1="422.06" x2="212.44" y2="388.06" stroke="#d2d2d2" stroke-width="2.3" stroke-dasharray="2.3 3.35"/><line x1="89.99" y1="416.07" x2="201.09" y2="382.07" stroke="#d2d2d2" stroke-width="2.3" stroke-dasharray="2.3 3.35"/><line x1="84.32" y1="413.08" x2="195.42" y2="379.08" stroke="#d2d2d2" stroke-width="2.3" stroke-dasharray="2.3 3.35"/><line x1="78.65" y1="410.09" x2="189.75" y2="376.09" stroke="#d2d2d2" stroke-width="2.3" stroke-dasharray="2.3 3.35"/><line x1="72.97" y1="407.09" x2="184.07" y2="373.09" stroke="#d2d2d2" stroke-width="2.3" stroke-dasharray="2.3 3.35"/></g><polyline points="67.3,404.1 67.3,307.5 178.4,273.5 263.5,318.4 263.5,415" fill="none" stroke="#808080" stroke-width="2.8" stroke-linejoin="miter"/><polyline points="178.4,273.5 178.4,370.1" fill="none" stroke="#808080" stroke-width="2.8" stroke-linejoin="miter"/><polyline points="67.3,404.1 178.4,370.1 263.5,415" fill="none" stroke="#808080" stroke-width="2.8" stroke-linejoin="miter"/><polyline points="67.3,404.1 152.4,449 263.5,415" fill="none" stroke="#808080" stroke-width="2.8" stroke-linejoin="miter"/><line x1="152.4" y1="449" x2="156.11" y2="450.96" stroke="#808080" stroke-width="2.7" /><line x1="180.18" y1="440.5" x2="183.89" y2="442.46" stroke="#808080" stroke-width="2.7" /><line x1="207.95" y1="432" x2="211.66" y2="433.96" stroke="#808080" stroke-width="2.7" /><line x1="235.72" y1="423.5" x2="239.44" y2="425.46" stroke="#808080" stroke-width="2.7" /><line x1="263.5" y1="415" x2="267.21" y2="416.96" stroke="#808080" stroke-width="2.7" /><line x1="152.4" y1="449" x2="148.38" y2="450.23" stroke="#808080" stroke-width="2.7" /><line x1="124.03" y1="434.03" x2="120.02" y2="435.26" stroke="#808080" stroke-width="2.7" /><line x1="95.67" y1="419.07" x2="91.65" y2="420.3" stroke="#808080" stroke-width="2.7" /><line x1="67.3" y1="404.1" x2="63.28" y2="405.33" stroke="#808080" stroke-width="2.7" /><line x1="67.3" y1="404.1" x2="63.1" y2="404.1" stroke="#808080" stroke-width="2.7" /><line x1="67.3" y1="367.3" x2="63.1" y2="367.3" stroke="#808080" stroke-width="2.7" /><line x1="67.3" y1="330.5" x2="63.1" y2="330.5" stroke="#808080" stroke-width="2.7" /><line x1="67.3" y1="326.82" x2="178.4" y2="292.82" stroke="#ff0000" stroke-width="3.2" stroke-dasharray="3.9 2.95"/><line x1="95.67" y1="322.47" x2="206.77" y2="288.47" stroke="#008000" stroke-width="2.5" /><line x1="124.03" y1="397.97" x2="235.13" y2="363.97" stroke="#0000ff" stroke-width="3.2" stroke-dasharray="3.9 2.95"/><line x1="152.4" y1="403.74" x2="263.5" y2="369.74" stroke="#a2142f" stroke-width="3.2" stroke-dasharray="3.9 2.95"/><line x1="67.3" y1="326.82" x2="178.4" y2="292.82" stroke="#ff0000" stroke-width="3.2" stroke-dasharray="3.9 2.95"/><line x1="95.67" y1="322.47" x2="206.77" y2="288.47" stroke="#008000" stroke-width="2.5" /><line x1="124.03" y1="397.97" x2="235.13" y2="363.97" stroke="#0000ff" stroke-width="3.2" stroke-dasharray="3.9 2.95"/><line x1="152.4" y1="403.74" x2="263.5" y2="369.74" stroke="#a2142f" stroke-width="3.2" stroke-dasharray="3.9 2.95"/><text x="122.3" y="262" class="ti">j<tspan class="sub" dx="0.8" dy="7.2">1</tspan><tspan dy="-7.2"> = 2, j</tspan><tspan class="sub" dx="0.8" dy="7.2">2</tspan><tspan dy="-7.2"> = 1</tspan></text><text transform="translate(60.4,406) scale(1.08,1)" class="tk tks" text-anchor="end">0</text><text transform="translate(60.5,370.4) scale(1.08,1)" class="tk tks" text-anchor="end">0.5</text><text transform="translate(59.9,333.4) scale(1.08,1)" class="tk tks" text-anchor="end">1</text><text transform="translate(145.7,466.8) scale(1.08,1)" class="tk tks" text-anchor="end">(1,1,2,1)</text><text transform="translate(117,451.6) scale(1.08,1)" class="tk tks" text-anchor="end">(1,2,2,1)</text><text transform="translate(88.5,436.7) scale(1.08,1)" class="tk tks" text-anchor="end">(2,1,2,1)</text><text transform="translate(60.2,421.7) scale(1.08,1)" class="tk tks" text-anchor="end">(2,2,2,1)</text><text x="159.8" y="468.8" class="tk">-<tspan class="pi pib" dx="0.5">&#960;</tspan></text><text x="187.7" y="463.5" class="tk"><tspan class="sm" dy="-6.5">-</tspan><tspan class="sm pi">&#960;</tspan><tspan class="sl" dy="6.5" dx="0.3">/</tspan><tspan class="sb" dy="6.2">2</tspan></text><text transform="translate(215.7,450.9) scale(1.08,1)" class="tk tks">0</text><text x="243.4" y="441.5" class="tk"><tspan class="sm pi" dy="-6.5">&#960;</tspan><tspan class="sl" dy="6.5" dx="0.3">/</tspan><tspan class="sb" dy="6.2">2</tspan></text><text x="272.5" y="433.5" class="tk pi pib">&#960;</text><text x="221.5" y="487.7" class="lb om">&#969;</text><text transform="translate(19.9,474.8) scale(1.08,1)" class="lb lbs">index</text><text class="lb yl" text-anchor="middle" transform="translate(25.6,356.6) rotate(-90)">|S<tspan class="sub2" dy="6.5">x</tspan><tspan dy="-6.5">(</tspan><tspan class="omy">&#969;</tspan><tspan>)|</tspan></text><clipPath id="c3L"><polygon points="333.3,404.1 444.4,370.1 444.4,273.5 333.3,307.5"/></clipPath><clipPath id="c3R"><polygon points="444.4,370.1 529.5,415 529.5,318.4 444.4,273.5"/></clipPath><clipPath id="c3F"><polygon points="333.3,404.1 444.4,370.1 529.5,415 418.4,449"/></clipPath><line x1="361.08" y1="395.6" x2="361.08" y2="299" stroke="#ebebeb" stroke-width="2.5" /><line x1="446.18" y1="440.5" x2="361.08" y2="395.6" stroke="#ececec" stroke-width="2.5" /><line x1="388.85" y1="387.1" x2="388.85" y2="290.5" stroke="#ebebeb" stroke-width="2.5" /><line x1="473.95" y1="432" x2="388.85" y2="387.1" stroke="#ececec" stroke-width="2.5" /><line x1="416.62" y1="378.6" x2="416.62" y2="282" stroke="#ebebeb" stroke-width="2.5" /><line x1="501.73" y1="423.5" x2="416.62" y2="378.6" stroke="#ececec" stroke-width="2.5" /><line x1="501.13" y1="400.03" x2="501.13" y2="303.43" stroke="#ebebeb" stroke-width="2.5" /><line x1="390.03" y1="434.03" x2="501.13" y2="400.03" stroke="#ececec" stroke-width="2.5" /><line x1="472.77" y1="385.07" x2="472.77" y2="288.47" stroke="#ebebeb" stroke-width="2.5" /><line x1="361.67" y1="419.07" x2="472.77" y2="385.07" stroke="#ececec" stroke-width="2.5" /><line x1="333.3" y1="367.3" x2="444.4" y2="333.3" stroke="#ebebeb" stroke-width="2.5" /><line x1="444.4" y1="333.3" x2="529.5" y2="378.2" stroke="#ebebeb" stroke-width="2.5" /><line x1="333.3" y1="330.5" x2="444.4" y2="296.5" stroke="#ebebeb" stroke-width="2.5" /><line x1="444.4" y1="296.5" x2="529.5" y2="341.4" stroke="#ebebeb" stroke-width="2.5" /><g clip-path="url(#c3L)"><line x1="338.86" y1="400.4" x2="338.86" y2="305.8" stroke="#d4d4d4" stroke-width="2.6" stroke-dasharray="2.6 3.05"/><line x1="344.41" y1="398.7" x2="344.41" y2="304.1" stroke="#d4d4d4" stroke-width="2.6" stroke-dasharray="2.6 3.05"/><line x1="349.97" y1="397" x2="349.97" y2="302.4" stroke="#d4d4d4" stroke-width="2.6" stroke-dasharray="2.6 3.05"/><line x1="355.52" y1="395.3" x2="355.52" y2="300.7" stroke="#d4d4d4" stroke-width="2.6" stroke-dasharray="2.6 3.05"/><line x1="366.63" y1="391.9" x2="366.63" y2="297.3" stroke="#d4d4d4" stroke-width="2.6" stroke-dasharray="2.6 3.05"/><line x1="372.19" y1="390.2" x2="372.19" y2="295.6" stroke="#d4d4d4" stroke-width="2.6" stroke-dasharray="2.6 3.05"/><line x1="377.74" y1="388.5" x2="377.74" y2="293.9" stroke="#d4d4d4" stroke-width="2.6" stroke-dasharray="2.6 3.05"/><line x1="383.3" y1="386.8" x2="383.3" y2="292.2" stroke="#d4d4d4" stroke-width="2.6" stroke-dasharray="2.6 3.05"/><line x1="394.4" y1="383.4" x2="394.4" y2="288.8" stroke="#d4d4d4" stroke-width="2.6" stroke-dasharray="2.6 3.05"/><line x1="399.96" y1="381.7" x2="399.96" y2="287.1" stroke="#d4d4d4" stroke-width="2.6" stroke-dasharray="2.6 3.05"/><line x1="405.51" y1="380" x2="405.51" y2="285.4" stroke="#d4d4d4" stroke-width="2.6" stroke-dasharray="2.6 3.05"/><line x1="411.07" y1="378.3" x2="411.07" y2="283.7" stroke="#d4d4d4" stroke-width="2.6" stroke-dasharray="2.6 3.05"/><line x1="422.18" y1="374.9" x2="422.18" y2="280.3" stroke="#d4d4d4" stroke-width="2.6" stroke-dasharray="2.6 3.05"/><line x1="427.74" y1="373.2" x2="427.74" y2="278.6" stroke="#d4d4d4" stroke-width="2.6" stroke-dasharray="2.6 3.05"/><line x1="433.29" y1="371.5" x2="433.29" y2="276.9" stroke="#d4d4d4" stroke-width="2.6" stroke-dasharray="2.6 3.05"/><line x1="438.85" y1="369.8" x2="438.85" y2="275.2" stroke="#d4d4d4" stroke-width="2.6" stroke-dasharray="2.6 3.05"/></g><g clip-path="url(#c3R)"><line x1="523.83" y1="410.01" x2="523.83" y2="315.41" stroke="#d4d4d4" stroke-width="2.6" stroke-dasharray="2.6 3.05"/><line x1="518.15" y1="407.01" x2="518.15" y2="312.41" stroke="#d4d4d4" stroke-width="2.6" stroke-dasharray="2.6 3.05"/><line x1="512.48" y1="404.02" x2="512.48" y2="309.42" stroke="#d4d4d4" stroke-width="2.6" stroke-dasharray="2.6 3.05"/><line x1="506.81" y1="401.03" x2="506.81" y2="306.43" stroke="#d4d4d4" stroke-width="2.6" stroke-dasharray="2.6 3.05"/><line x1="495.46" y1="395.04" x2="495.46" y2="300.44" stroke="#d4d4d4" stroke-width="2.6" stroke-dasharray="2.6 3.05"/><line x1="489.79" y1="392.05" x2="489.79" y2="297.45" stroke="#d4d4d4" stroke-width="2.6" stroke-dasharray="2.6 3.05"/><line x1="484.11" y1="389.05" x2="484.11" y2="294.45" stroke="#d4d4d4" stroke-width="2.6" stroke-dasharray="2.6 3.05"/><line x1="478.44" y1="386.06" x2="478.44" y2="291.46" stroke="#d4d4d4" stroke-width="2.6" stroke-dasharray="2.6 3.05"/><line x1="467.09" y1="380.07" x2="467.09" y2="285.47" stroke="#d4d4d4" stroke-width="2.6" stroke-dasharray="2.6 3.05"/><line x1="461.42" y1="377.08" x2="461.42" y2="282.48" stroke="#d4d4d4" stroke-width="2.6" stroke-dasharray="2.6 3.05"/><line x1="455.75" y1="374.09" x2="455.75" y2="279.49" stroke="#d4d4d4" stroke-width="2.6" stroke-dasharray="2.6 3.05"/><line x1="450.07" y1="371.09" x2="450.07" y2="276.49" stroke="#d4d4d4" stroke-width="2.6" stroke-dasharray="2.6 3.05"/></g><g clip-path="url(#c3F)"><line x1="423.96" y1="447.3" x2="338.86" y2="402.4" stroke="#d2d2d2" stroke-width="2.3" stroke-dasharray="2.3 3.35"/><line x1="429.51" y1="445.6" x2="344.41" y2="400.7" stroke="#d2d2d2" stroke-width="2.3" stroke-dasharray="2.3 3.35"/><line x1="435.06" y1="443.9" x2="349.97" y2="399" stroke="#d2d2d2" stroke-width="2.3" stroke-dasharray="2.3 3.35"/><line x1="440.62" y1="442.2" x2="355.52" y2="397.3" stroke="#d2d2d2" stroke-width="2.3" stroke-dasharray="2.3 3.35"/><line x1="451.73" y1="438.8" x2="366.63" y2="393.9" stroke="#d2d2d2" stroke-width="2.3" stroke-dasharray="2.3 3.35"/><line x1="457.28" y1="437.1" x2="372.19" y2="392.2" stroke="#d2d2d2" stroke-width="2.3" stroke-dasharray="2.3 3.35"/><line x1="462.84" y1="435.4" x2="377.74" y2="390.5" stroke="#d2d2d2" stroke-width="2.3" stroke-dasharray="2.3 3.35"/><line x1="468.39" y1="433.7" x2="383.3" y2="388.8" stroke="#d2d2d2" stroke-width="2.3" stroke-dasharray="2.3 3.35"/><line x1="479.5" y1="430.3" x2="394.4" y2="385.4" stroke="#d2d2d2" stroke-width="2.3" stroke-dasharray="2.3 3.35"/><line x1="485.06" y1="428.6" x2="399.96" y2="383.7" stroke="#d2d2d2" stroke-width="2.3" stroke-dasharray="2.3 3.35"/><line x1="490.62" y1="426.9" x2="405.51" y2="382" stroke="#d2d2d2" stroke-width="2.3" stroke-dasharray="2.3 3.35"/><line x1="496.17" y1="425.2" x2="411.07" y2="380.3" stroke="#d2d2d2" stroke-width="2.3" stroke-dasharray="2.3 3.35"/><line x1="507.28" y1="421.8" x2="422.18" y2="376.9" stroke="#d2d2d2" stroke-width="2.3" stroke-dasharray="2.3 3.35"/><line x1="512.84" y1="420.1" x2="427.74" y2="375.2" stroke="#d2d2d2" stroke-width="2.3" stroke-dasharray="2.3 3.35"/><line x1="518.39" y1="418.4" x2="433.29" y2="373.5" stroke="#d2d2d2" stroke-width="2.3" stroke-dasharray="2.3 3.35"/><line x1="523.94" y1="416.7" x2="438.85" y2="371.8" stroke="#d2d2d2" stroke-width="2.3" stroke-dasharray="2.3 3.35"/><line x1="412.73" y1="446.01" x2="523.83" y2="412.01" stroke="#d2d2d2" stroke-width="2.3" stroke-dasharray="2.3 3.35"/><line x1="407.05" y1="443.01" x2="518.15" y2="409.01" stroke="#d2d2d2" stroke-width="2.3" stroke-dasharray="2.3 3.35"/><line x1="401.38" y1="440.02" x2="512.48" y2="406.02" stroke="#d2d2d2" stroke-width="2.3" stroke-dasharray="2.3 3.35"/><line x1="395.71" y1="437.03" x2="506.81" y2="403.03" stroke="#d2d2d2" stroke-width="2.3" stroke-dasharray="2.3 3.35"/><line x1="384.36" y1="431.04" x2="495.46" y2="397.04" stroke="#d2d2d2" stroke-width="2.3" stroke-dasharray="2.3 3.35"/><line x1="378.69" y1="428.05" x2="489.79" y2="394.05" stroke="#d2d2d2" stroke-width="2.3" stroke-dasharray="2.3 3.35"/><line x1="373.01" y1="425.05" x2="484.11" y2="391.05" stroke="#d2d2d2" stroke-width="2.3" stroke-dasharray="2.3 3.35"/><line x1="367.34" y1="422.06" x2="478.44" y2="388.06" stroke="#d2d2d2" stroke-width="2.3" stroke-dasharray="2.3 3.35"/><line x1="355.99" y1="416.07" x2="467.09" y2="382.07" stroke="#d2d2d2" stroke-width="2.3" stroke-dasharray="2.3 3.35"/><line x1="350.32" y1="413.08" x2="461.42" y2="379.08" stroke="#d2d2d2" stroke-width="2.3" stroke-dasharray="2.3 3.35"/><line x1="344.65" y1="410.09" x2="455.75" y2="376.09" stroke="#d2d2d2" stroke-width="2.3" stroke-dasharray="2.3 3.35"/><line x1="338.97" y1="407.09" x2="450.07" y2="373.09" stroke="#d2d2d2" stroke-width="2.3" stroke-dasharray="2.3 3.35"/></g><polyline points="333.3,404.1 333.3,307.5 444.4,273.5 529.5,318.4 529.5,415" fill="none" stroke="#808080" stroke-width="2.8" stroke-linejoin="miter"/><polyline points="444.4,273.5 444.4,370.1" fill="none" stroke="#808080" stroke-width="2.8" stroke-linejoin="miter"/><polyline points="333.3,404.1 444.4,370.1 529.5,415" fill="none" stroke="#808080" stroke-width="2.8" stroke-linejoin="miter"/><polyline points="333.3,404.1 418.4,449 529.5,415" fill="none" stroke="#808080" stroke-width="2.8" stroke-linejoin="miter"/><line x1="418.4" y1="449" x2="422.11" y2="450.96" stroke="#808080" stroke-width="2.7" /><line x1="446.18" y1="440.5" x2="449.89" y2="442.46" stroke="#808080" stroke-width="2.7" /><line x1="473.95" y1="432" x2="477.66" y2="433.96" stroke="#808080" stroke-width="2.7" /><line x1="501.73" y1="423.5" x2="505.44" y2="425.46" stroke="#808080" stroke-width="2.7" /><line x1="529.5" y1="415" x2="533.21" y2="416.96" stroke="#808080" stroke-width="2.7" /><line x1="418.4" y1="449" x2="414.38" y2="450.23" stroke="#808080" stroke-width="2.7" /><line x1="390.03" y1="434.03" x2="386.02" y2="435.26" stroke="#808080" stroke-width="2.7" /><line x1="361.67" y1="419.07" x2="357.65" y2="420.3" stroke="#808080" stroke-width="2.7" /><line x1="333.3" y1="404.1" x2="329.28" y2="405.33" stroke="#808080" stroke-width="2.7" /><line x1="333.3" y1="404.1" x2="329.1" y2="404.1" stroke="#808080" stroke-width="2.7" /><line x1="333.3" y1="367.3" x2="329.1" y2="367.3" stroke="#808080" stroke-width="2.7" /><line x1="333.3" y1="330.5" x2="329.1" y2="330.5" stroke="#808080" stroke-width="2.7" /><line x1="333.3" y1="307.5" x2="444.4" y2="273.5" stroke="#008000" stroke-width="2.5" /><line x1="361.67" y1="341.79" x2="472.77" y2="307.79" stroke="#0000ff" stroke-width="3.2" stroke-dasharray="3.9 2.95"/><line x1="390.03" y1="388.77" x2="501.13" y2="354.77" stroke="#a2142f" stroke-width="3.2" stroke-dasharray="3.9 2.95"/><line x1="418.4" y1="412.94" x2="529.5" y2="378.94" stroke="#ff0000" stroke-width="3.2" stroke-dasharray="3.9 2.95"/><line x1="333.3" y1="307.5" x2="444.4" y2="273.5" stroke="#008000" stroke-width="2.5" /><line x1="361.67" y1="341.79" x2="472.77" y2="307.79" stroke="#0000ff" stroke-width="3.2" stroke-dasharray="3.9 2.95"/><line x1="390.03" y1="388.77" x2="501.13" y2="354.77" stroke="#a2142f" stroke-width="3.2" stroke-dasharray="3.9 2.95"/><line x1="418.4" y1="412.94" x2="529.5" y2="378.94" stroke="#ff0000" stroke-width="3.2" stroke-dasharray="3.9 2.95"/><text x="388.3" y="262" class="ti">j<tspan class="sub" dx="0.8" dy="7.2">1</tspan><tspan dy="-7.2"> = 2, j</tspan><tspan class="sub" dx="0.8" dy="7.2">2</tspan><tspan dy="-7.2"> = 2</tspan></text><text transform="translate(326.4,406) scale(1.08,1)" class="tk tks" text-anchor="end">0</text><text transform="translate(326.5,370.4) scale(1.08,1)" class="tk tks" text-anchor="end">0.5</text><text transform="translate(325.9,333.4) scale(1.08,1)" class="tk tks" text-anchor="end">1</text><text transform="translate(411.7,466.8) scale(1.08,1)" class="tk tks" text-anchor="end">(1,1,2,2)</text><text transform="translate(383,451.6) scale(1.08,1)" class="tk tks" text-anchor="end">(1,2,2,2)</text><text transform="translate(354.5,436.7) scale(1.08,1)" class="tk tks" text-anchor="end">(2,1,2,2)</text><text transform="translate(326.2,421.7) scale(1.08,1)" class="tk tks" text-anchor="end">(2,2,2,2)</text><text x="425.8" y="468.8" class="tk">-<tspan class="pi pib" dx="0.5">&#960;</tspan></text><text x="453.7" y="463.5" class="tk"><tspan class="sm" dy="-6.5">-</tspan><tspan class="sm pi">&#960;</tspan><tspan class="sl" dy="6.5" dx="0.3">/</tspan><tspan class="sb" dy="6.2">2</tspan></text><text transform="translate(481.7,450.9) scale(1.08,1)" class="tk tks">0</text><text x="509.4" y="441.5" class="tk"><tspan class="sm pi" dy="-6.5">&#960;</tspan><tspan class="sl" dy="6.5" dx="0.3">/</tspan><tspan class="sb" dy="6.2">2</tspan></text><text x="538.5" y="433.5" class="tk pi pib">&#960;</text><text x="487.5" y="487.7" class="lb om">&#969;</text><text transform="translate(285.9,474.8) scale(1.08,1)" class="lb lbs">index</text><text class="lb yl" text-anchor="middle" transform="translate(291.6,356.6) rotate(-90)">|S<tspan class="sub2" dy="6.5">x</tspan><tspan dy="-6.5">(</tspan><tspan class="omy">&#969;</tspan><tspan>)|</tspan></text>
</svg></body></html>
